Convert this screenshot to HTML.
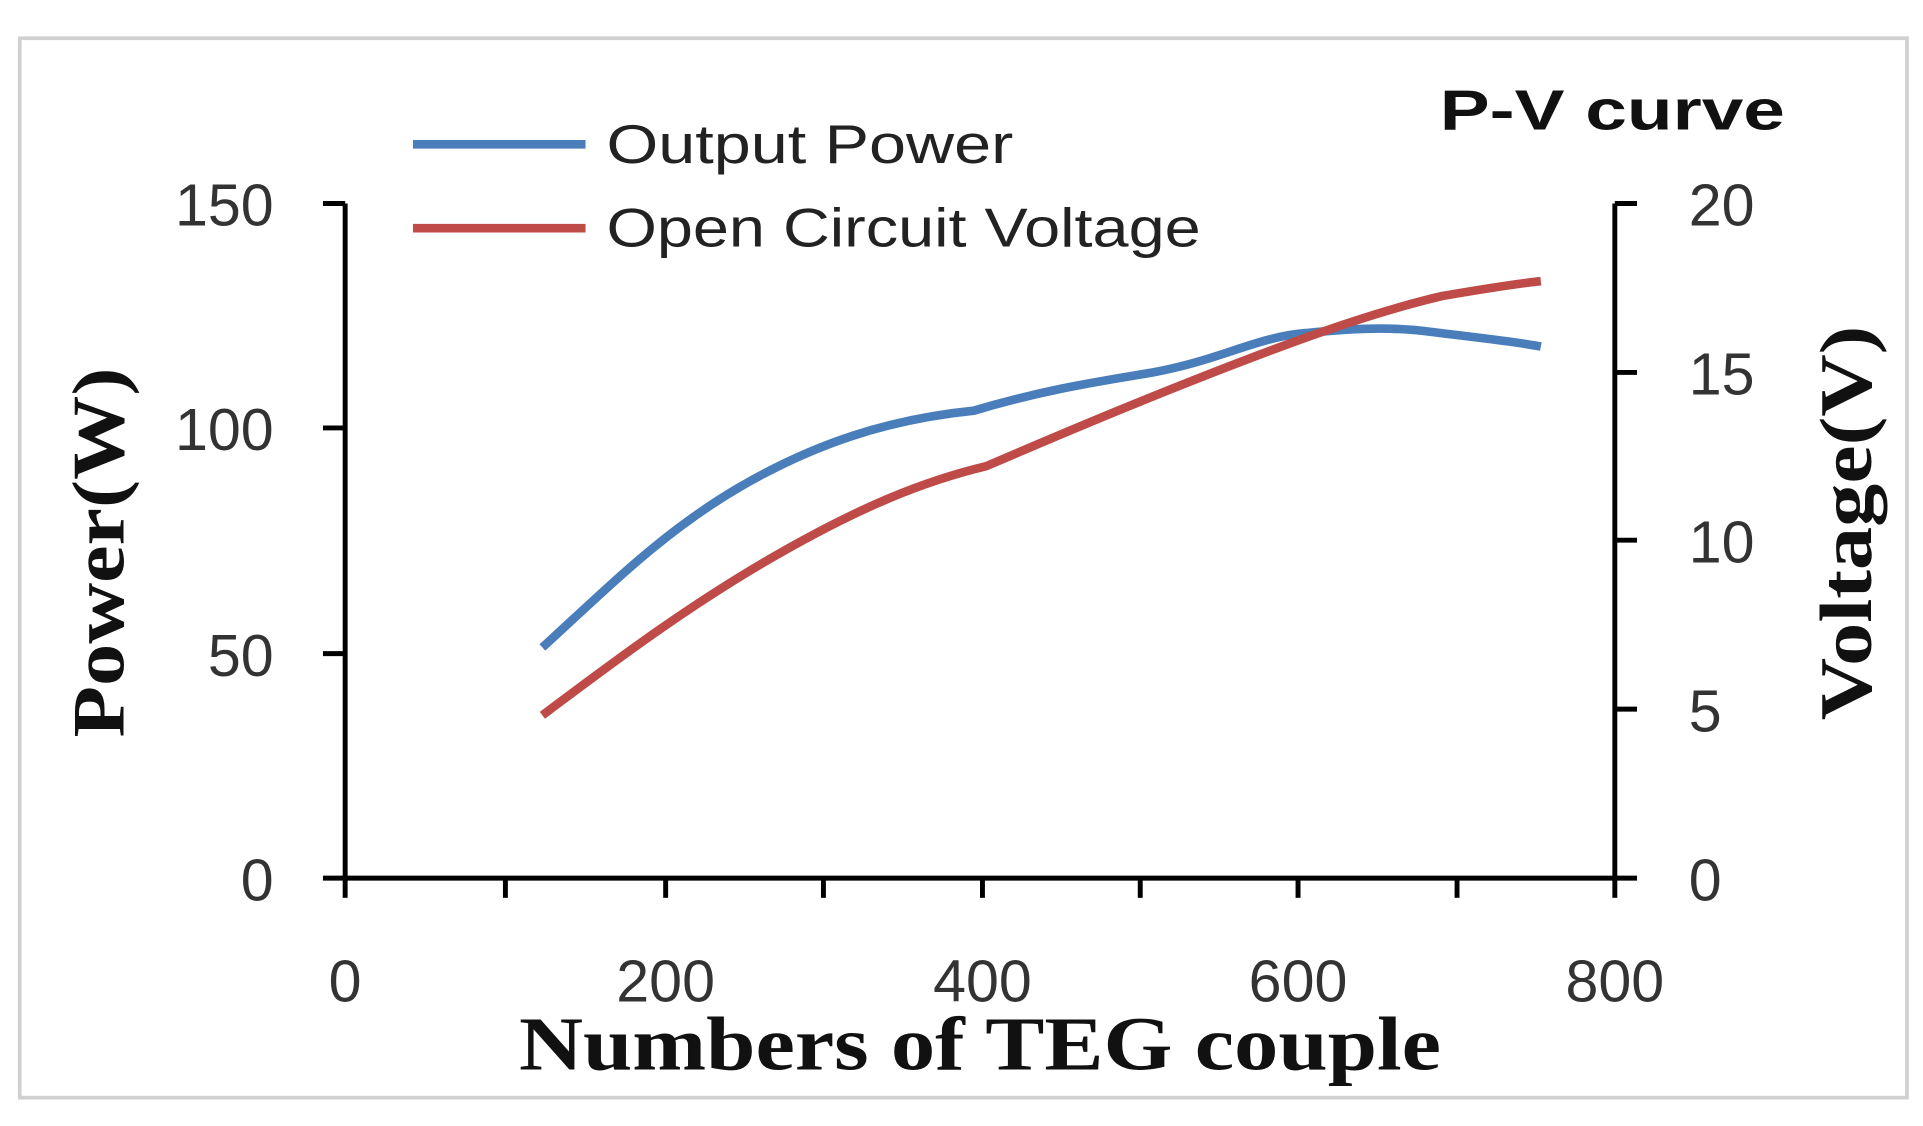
<!DOCTYPE html>
<html><head><style>html,body{margin:0;padding:0;background:#fff}svg{display:block}</style></head>
<body>
<svg width="1923" height="1126" viewBox="0 0 1560 913" preserveAspectRatio="none" xmlns="http://www.w3.org/2000/svg">
<rect x="0" y="0" width="1560" height="913" fill="#fff"/>
<rect x="16" y="31" width="1531" height="859" fill="none" stroke="#d0d0d0" stroke-width="3"/>
<g stroke="#000" stroke-width="4" fill="none">
<line x1="280" y1="165" x2="280" y2="714"/>
<line x1="262" y1="712" x2="1312" y2="712"/>
<line x1="1310" y1="165" x2="1310" y2="714"/>
<line x1="262" y1="165" x2="280" y2="165"/><line x1="262" y1="347" x2="280" y2="347"/><line x1="262" y1="530" x2="280" y2="530"/>
<line x1="1310" y1="165" x2="1328" y2="165"/><line x1="1310" y1="302" x2="1328" y2="302"/><line x1="1310" y1="438" x2="1328" y2="438"/><line x1="1310" y1="575" x2="1328" y2="575"/><line x1="1310" y1="712" x2="1328" y2="712"/>
<line x1="280" y1="712" x2="280" y2="728"/><line x1="410" y1="712" x2="410" y2="728"/><line x1="540" y1="712" x2="540" y2="728"/><line x1="668" y1="712" x2="668" y2="728"/><line x1="797" y1="712" x2="797" y2="728"/><line x1="925" y1="712" x2="925" y2="728"/><line x1="1053" y1="712" x2="1053" y2="728"/><line x1="1182" y1="712" x2="1182" y2="728"/><line x1="1310" y1="712" x2="1310" y2="728"/>
</g>
<g font-family="Liberation Sans, sans-serif" font-size="48" fill="#333">
<text x="222" y="183" text-anchor="end">150</text>
<text x="222" y="365" text-anchor="end">100</text>
<text x="222" y="548" text-anchor="end">50</text>
<text x="222" y="730" text-anchor="end">0</text>
<text x="1370" y="183">20</text>
<text x="1370" y="320">15</text>
<text x="1370" y="456">10</text>
<text x="1370" y="593">5</text>
<text x="1370" y="730">0</text>
<text x="280" y="812" text-anchor="middle">0</text>
<text x="540" y="812" text-anchor="middle">200</text>
<text x="797" y="812" text-anchor="middle">400</text>
<text x="1053" y="812" text-anchor="middle">600</text>
<text x="1310" y="812" text-anchor="middle">800</text>
</g>
<path d="M440,525 C500,470 540,430 600,395 C660,360 720,340 790,333 C850,315 900,308 935,302 C990,292 1020,273 1060,270 C1100,266 1130,265 1160,269 C1200,274 1230,277 1250,281" fill="none" stroke="#4a7ebb" stroke-width="7"/>
<path d="M440,580 C500,535 560,490 630,450 C700,410 750,390 800,378 C870,348 960,310 1053,276 C1100,259 1140,247 1170,240 C1205,234 1230,230 1250,228" fill="none" stroke="#be4b48" stroke-width="7"/>
<line x1="335" y1="117" x2="475" y2="117" stroke="#4a7ebb" stroke-width="7"/>
<line x1="335" y1="185" x2="475" y2="185" stroke="#be4b48" stroke-width="7"/>
<g font-family="Liberation Sans, sans-serif" font-size="44" fill="#222">
<text x="492" y="132" textLength="330" lengthAdjust="spacingAndGlyphs">Output Power</text>
<text x="492" y="200" textLength="482" lengthAdjust="spacingAndGlyphs">Open Circuit Voltage</text>
</g>
<text x="1168" y="105" font-family="Liberation Sans, sans-serif" font-weight="bold" font-size="46" fill="#111" textLength="280" lengthAdjust="spacingAndGlyphs">P-V curve</text>
<g font-family="Liberation Serif, serif" font-weight="bold" fill="#111">
<text x="795" y="867" font-size="62" text-anchor="middle" textLength="748" lengthAdjust="spacingAndGlyphs">Numbers of TEG couple</text>
<text transform="translate(100,448) rotate(-90)" font-size="60" text-anchor="middle" textLength="300" lengthAdjust="spacingAndGlyphs">Power(W)</text>
<text transform="translate(1518,424) rotate(-90)" font-size="60" text-anchor="middle" textLength="320" lengthAdjust="spacingAndGlyphs">Voltage(V)</text>
</g>
</svg>
</body></html>
